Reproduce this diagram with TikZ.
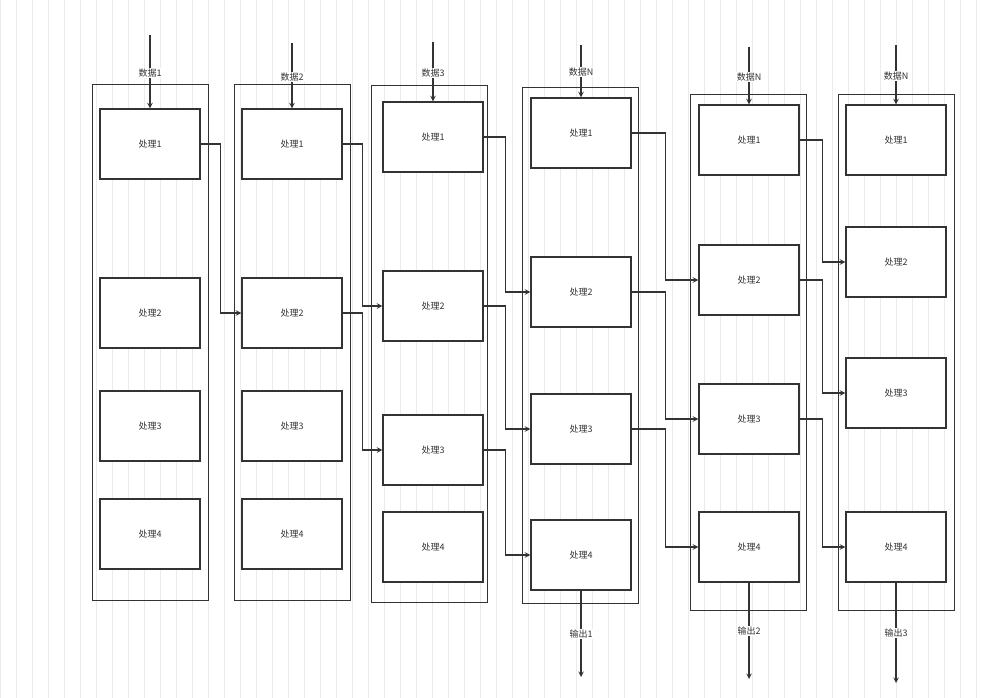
\documentclass[tikz,border=0pt]{standalone}
\usepackage{fontspec}
\newfontfamily\cjk{Noto Sans CJK SC}
\begin{document}
\begin{tikzpicture}[
    x=1pt, y=-1pt,
    >=stealth,
    line width=1.4pt,
    lane/.style={draw=black!80, minimum width=116pt, anchor=north west},
    proc/.style={draw=black!80, fill=white, minimum width=100pt, minimum height=70pt, font=\cjk\fontsize{9}{10}\selectfont, text=black!80},
    lbl/.style={fill=white, inner sep=1pt, font=\cjk\fontsize{9}{10}\selectfont, text=black!80},
    flow/.style={->, draw=black!80}
]
\useasboundingbox (0,0) rectangle (983,698);
% grid
\draw[black!8, line width=0.6pt] (0,0) grid[step=16] (983,698);

% lanes
\node[lane, minimum height=516pt] (l1) at (92,84) {};
\node[lane, minimum height=516pt] (l2) at (234,84) {};
\node[lane, minimum height=517pt] (l3) at (371,85) {};
\node[lane, minimum height=516pt] (l4) at (522,87) {};
\node[lane, minimum height=516pt] (l5) at (690,94) {};
\node[lane, minimum height=516pt] (l6) at (838,94) {};

% processing steps
\foreach \c/\x/\ya/\yb/\yc/\yd in {1/150/144/313/426/534, 2/292/144/313/426/534,
    3/433/137/306/450/547, 4/581/133/292/429/555, 5/749/140/280/419/547, 6/896/140/262/393/547}{
  \node[proc] (s\c a) at (\x,\ya) {处理1};
  \node[proc] (s\c b) at (\x,\yb) {处理2};
  \node[proc] (s\c c) at (\x,\yc) {处理3};
  \node[proc] (s\c d) at (\x,\yd) {处理4};
}

% inputs
\coordinate (i1) at (150,35);
\coordinate (i2) at (292,43);
\coordinate (i3) at (433,42);
\coordinate (i4) at (581,45);
\coordinate (i5) at (749,47);
\coordinate (i6) at (896,45);
\draw[flow] (i1) -- node[lbl, pos=0.52] {数据1} (s1a.north);
\draw[flow] (i2) -- node[lbl, pos=0.52] {数据2} (s2a.north);
\draw[flow] (i3) -- node[lbl, pos=0.52] {数据3} (s3a.north);
\draw[flow] (i4) -- node[lbl, pos=0.52] {数据N} (s4a.north);
\draw[flow] (i5) -- node[lbl, pos=0.52] {数据N} (s5a.north);
\draw[flow] (i6) -- node[lbl, pos=0.52] {数据N} (s6a.north);

% hand-over between lanes
\draw[flow] (s1a.east) -- ++(20,0) |- (s2b.west);
\draw[flow] (s2a.east) -- ++(20,0) |- (s3b.west);
\draw[flow] (s2b.east) -- ++(20,0) |- (s3c.west);
\draw[flow] (s3a.east) -- ++(22,0) |- (s4b.west);
\draw[flow] (s3b.east) -- ++(22,0) |- (s4c.west);
\draw[flow] (s3c.east) -- ++(22,0) |- (s4d.west);
\draw[flow] (s4a.east) -- ++(34,0) |- (s5b.west);
\draw[flow] (s4b.east) -- ++(34,0) |- (s5c.west);
\draw[flow] (s4c.east) -- ++(34,0) |- (s5d.west);
\draw[flow] (s5a.east) -- ++(23,0) |- (s6b.west);
\draw[flow] (s5b.east) -- ++(23,0) |- (s6c.west);
\draw[flow] (s5c.east) -- ++(23,0) |- (s6d.west);

% outputs
\coordinate (o1) at (581,677);
\coordinate (o2) at (749,679);
\coordinate (o3) at (896,683);
\draw[flow] (s4d.south) -- node[lbl, pos=0.5] {输出1} (o1);
\draw[flow] (s5d.south) -- node[lbl, pos=0.5] {输出2} (o2);
\draw[flow] (s6d.south) -- node[lbl, pos=0.5] {输出3} (o3);
\end{tikzpicture}
\end{document}
